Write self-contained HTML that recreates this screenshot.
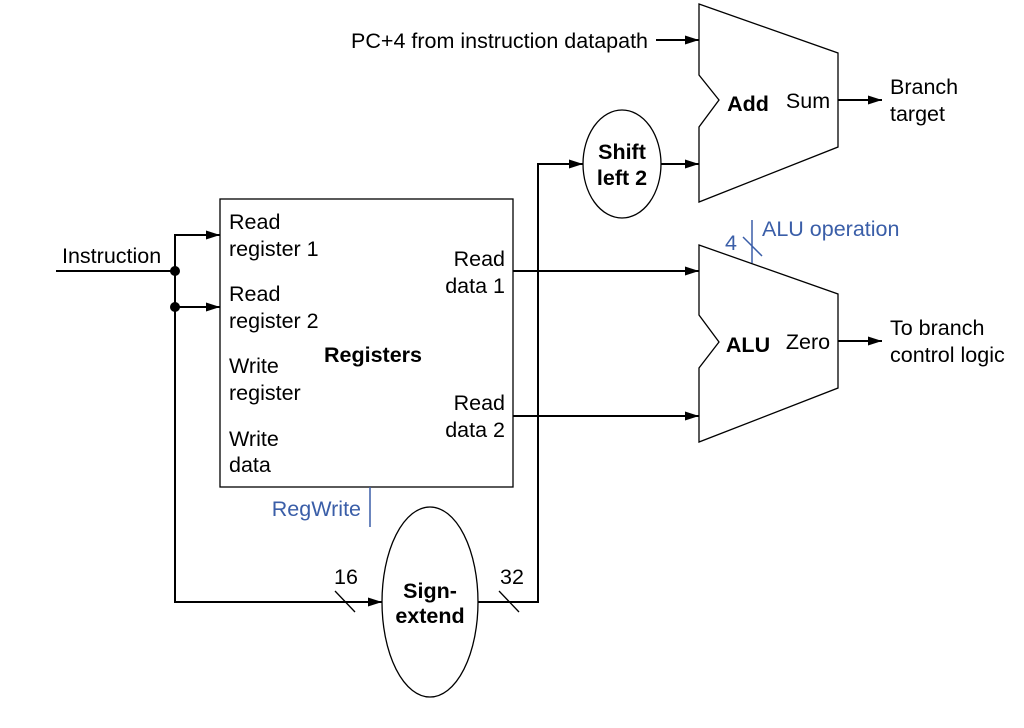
<!DOCTYPE html>
<html><head><meta charset="utf-8"><style>
html,body{margin:0;padding:0;background:#fff;}
svg{display:block;}
text{font-family:"Liberation Sans",Arial,sans-serif;font-size:21.5px;fill:#000;}
.b{font-weight:bold;}
.bl{fill:#3a5ea8;}
</style></head><body>
<svg width="1024" height="728" viewBox="0 0 1024 728" xmlns="http://www.w3.org/2000/svg">
<defs><marker id="a" markerWidth="14" markerHeight="9" refX="14" refY="4.5" orient="auto" markerUnits="userSpaceOnUse"><path d="M0,0 L14,4.5 L0,9 z" fill="#000"/></marker></defs>
<g fill="none" stroke="#000" stroke-width="1.5">
<rect x="220" y="199" width="293" height="288" stroke-width="1.3"/>
<polygon points="699,4 838,53 838,147 699,202 699,127 719,100 699,75" stroke-width="1.3"/>
<polygon points="699,245 838,294 838,388 699,442 699,368 719,342 699,315" stroke-width="1.3"/>
<ellipse cx="622" cy="164" rx="39" ry="54" stroke-width="1.3"/>
<ellipse cx="430" cy="602" rx="48" ry="95" stroke-width="1.3"/>
<g stroke-width="2">
<line x1="56" y1="271" x2="175" y2="271"/>
<polyline points="220,235 175,235 175,602 382,602" marker-end="url(#a)"/>
<line x1="175" y1="235" x2="220" y2="235" marker-end="url(#a)"/>
<line x1="175" y1="307" x2="220" y2="307" marker-end="url(#a)"/>
<polyline points="478,602 538,602 538,164 583,164" marker-end="url(#a)"/>
<line x1="661" y1="164" x2="699" y2="164" marker-end="url(#a)"/>
<line x1="656" y1="40" x2="699" y2="40" marker-end="url(#a)"/>
<line x1="513" y1="271" x2="699" y2="271" marker-end="url(#a)"/>
<line x1="513" y1="416" x2="699" y2="416" marker-end="url(#a)"/>
<line x1="838" y1="100" x2="882" y2="100" marker-end="url(#a)"/>
<line x1="838" y1="341" x2="882" y2="341" marker-end="url(#a)"/>
</g>
<line x1="335" y1="591" x2="355" y2="612" stroke-width="1.3"/>
<line x1="499" y1="591" x2="519" y2="612" stroke-width="1.3"/>
<line x1="370" y1="487" x2="370" y2="527" stroke="#3a5ea8" stroke-width="1.5"/>
<line x1="752" y1="220" x2="752" y2="263" stroke="#3a5ea8" stroke-width="1.5"/>
<line x1="743" y1="237" x2="762" y2="256" stroke="#3a5ea8" stroke-width="1.5"/>
</g>
<circle cx="175" cy="271" r="5" fill="#000"/>
<circle cx="175" cy="307" r="5" fill="#000"/>
<text x="62" y="263">Instruction</text>
<text x="229" y="229">Read</text><text x="229" y="256">register 1</text>
<text x="229" y="301">Read</text><text x="229" y="328">register 2</text>
<text x="229" y="373">Write</text><text x="229" y="400">register</text>
<text x="229" y="446">Write</text><text x="229" y="472">data</text>
<text x="505" y="266" text-anchor="end">Read</text><text x="505" y="293" text-anchor="end">data 1</text>
<text x="505" y="410" text-anchor="end">Read</text><text x="505" y="437" text-anchor="end">data 2</text>
<text x="373" y="362" text-anchor="middle" class="b">Registers</text>
<text x="361" y="516" text-anchor="end" class="bl">RegWrite</text>
<text x="346" y="584" text-anchor="middle">16</text>
<text x="512" y="584" text-anchor="middle">32</text>
<text x="430" y="598" text-anchor="middle" class="b">Sign-</text>
<text x="430" y="623" text-anchor="middle" class="b">extend</text>
<text x="622" y="159" text-anchor="middle" class="b">Shift</text>
<text x="622" y="185" text-anchor="middle" class="b">left 2</text>
<text x="648" y="48" text-anchor="end">PC+4 from instruction datapath</text>
<text x="748" y="111" text-anchor="middle" class="b">Add</text>
<text x="808" y="108" text-anchor="middle">Sum</text>
<text x="890" y="94">Branch</text><text x="890" y="121">target</text>
<text x="748" y="352" text-anchor="middle" class="b">ALU</text>
<text x="808" y="349" text-anchor="middle">Zero</text>
<text x="890" y="335">To branch</text><text x="890" y="362">control logic</text>
<text x="731" y="250" text-anchor="middle" class="bl">4</text>
<text x="762" y="236" class="bl">ALU operation</text>
</svg>
</body></html>
